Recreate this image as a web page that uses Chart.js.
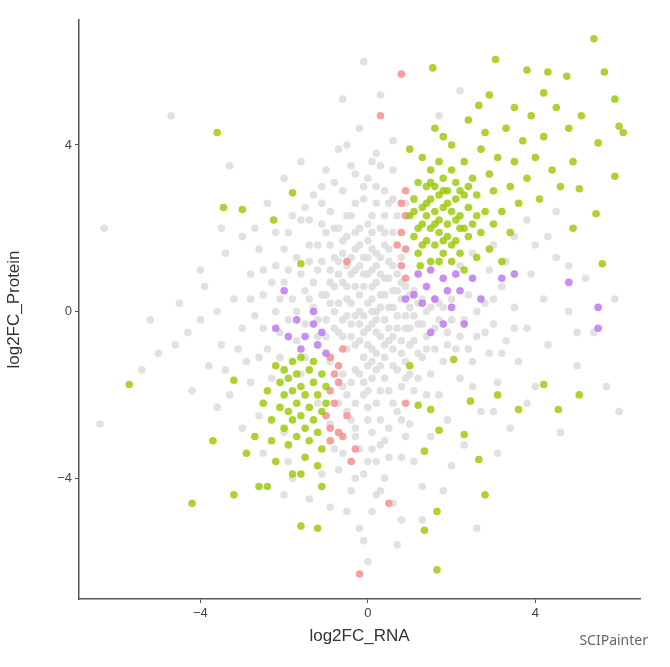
<!DOCTYPE html>
<html><head><meta charset="utf-8">
<script src="https://cdn.jsdelivr.net/npm/chart.js@4"></script>
<style>body{margin:0;background:#fff}#w{position:relative;width:670px;height:667px}
#wm{position:absolute;right:22px;bottom:18px;font:14px "Noto Sans",sans-serif;color:#666}</style>
</head><body><div id="w"><canvas id="c" width="670" height="667"></canvas><div id="wm">SCIPainter</div></div>
<script>
const xTicks=[-4,0,4];
const yTicks=[-4,0,4];
const grey=[[-6.3,2.0],[-6.4,-2.7],[-4.7,4.7],[-5.2,-0.2],[-5.0,-1.0],[-4.5,0.2],[-4.3,-0.5],[-4.0,1.0],[-3.8,-1.3],[-3.9,0.6],[-3.5,-0.8],[-3.4,1.4],[-3.3,-2.0],[-3.2,0.3],[-3.0,-0.4],[-3.0,1.8],[-2.9,-1.2],[-2.8,0.9],[-2.7,-0.1],[-2.6,-2.5],[-2.6,1.5],[-2.5,0.4],[-2.4,-0.9],[-2.4,2.6],[-2.3,-1.6],[-2.2,0.0],[-2.2,1.1],[-2.1,-0.5],[-2.0,0.7],[-2.0,-2.9],[-1.9,1.9],[-1.9,-0.2],[-1.8,0.3],[-1.8,-4.0],[-1.7,1.3],[-1.7,-0.7],[-1.6,0.9],[-1.6,2.2],[-1.5,-0.3],[-1.5,0.5],[-1.4,1.6],[-1.4,-4.5],[-1.3,0.1],[-1.3,2.8],[-1.2,-0.6],[-1.2,1.0],[-1.1,0.4],[-1.1,-3.9],[-1.0,1.9],[-1.0,-0.2],[-1.0,3.4],[-0.9,0.7],[-0.9,-1.2],[-0.9,2.4],[-0.8,0.0],[-0.8,1.3],[-0.8,-3.3],[-0.7,-0.5],[-0.7,3.9],[-0.7,0.9],[-0.6,1.7],[-0.6,-1.8],[-0.6,2.9],[-0.5,0.3],[-0.5,-0.9],[-0.5,1.1],[-0.5,-2.4],[-0.4,2.3],[-0.4,-0.3],[-0.4,3.5],[-0.4,-4.3],[-0.3,0.6],[-0.3,1.5],[-0.3,-1.4],[-0.3,-3.0],[-0.2,0.0],[-0.2,2.0],[-0.2,-0.7],[-0.2,4.4],[-0.2,-5.2],[-0.1,0.9],[-0.1,-2.0],[-0.1,1.3],[-0.1,-1.1],[-0.1,2.7],[0.0,0.2],[0.0,-0.4],[0.0,1.7],[0.0,-2.6],[0.0,3.2],[0.0,-3.6],[0.0,-6.0],[0.1,0.6],[0.1,-1.6],[0.1,1.0],[0.1,-0.9],[0.1,2.3],[0.1,-4.8],[0.2,0.0],[0.2,1.4],[0.2,-0.5],[0.2,-2.2],[0.2,3.8],[0.3,0.4],[0.3,-1.3],[0.3,2.0],[0.3,-3.2],[0.3,5.2],[0.4,0.8],[0.4,-0.2],[0.4,1.6],[0.4,-0.8],[0.4,-4.0],[0.5,0.1],[0.5,1.2],[0.5,-1.9],[0.5,2.6],[0.5,-2.8],[0.6,0.5],[0.6,-0.6],[0.6,1.9],[0.6,-1.3],[0.6,3.4],[0.7,-0.1],[0.7,0.9],[0.7,-2.4],[0.7,2.3],[0.7,-5.6],[0.8,0.3],[0.8,-1.0],[0.8,1.3],[0.8,-3.5],[0.9,-0.4],[0.9,0.6],[0.9,-1.6],[1.0,0.1],[1.0,-0.8],[1.1,0.5],[1.1,-1.9],[1.2,-0.3],[1.2,0.2],[1.3,-1.1],[1.3,-4.2],[1.4,0.0],[1.4,-0.6],[1.5,-1.5],[1.6,0.3],[1.6,-0.9],[1.7,-0.2],[1.7,-2.0],[1.8,0.1],[1.8,-1.2],[1.9,-0.5],[2.0,-3.7],[2.0,0.3],[2.1,-0.9],[2.2,-1.6],[2.3,-0.2],[2.4,0.4],[2.5,-1.2],[2.6,-0.6],[2.7,-2.4],[2.8,0.2],[2.9,-1.0],[3.0,-0.3],[3.1,-1.7],[3.2,0.6],[3.3,-0.7],[3.4,-2.8],[3.5,0.1],[3.6,-1.2],[3.8,-0.4],[3.9,0.9],[4.0,-1.8],[4.2,0.3],[4.3,-0.8],[4.5,1.3],[4.6,-2.9],[4.8,0.0],[5.0,-1.3],[5.2,0.8],[5.4,-0.5],[5.7,-1.8],[6.0,-2.4],[5.9,0.3],[-0.1,6.0],[-0.6,5.1],[1.7,4.7],[2.2,5.3],[-1.6,3.6],[-2.0,3.2],[-3.3,3.5],[1.3,-5.0],[2.6,-5.2],[-0.5,-4.8],[0.6,-4.6],[-2.5,-3.4],[-3.0,-2.8],[-3.6,-2.3],[-4.2,-1.9],[3.8,2.2],[4.5,2.4],[3.3,1.2],[2.9,1.0],[4.0,1.6],[-0.9,-2.7],[-0.4,-1.7],[0.3,-2.6],[-0.2,-3.3],[0.5,-3.5],[-0.7,-3.8],[0.2,-4.4],[-0.3,2.6],[0.4,2.9],[-0.8,3.1],[0.1,3.6],[-0.5,4.0],[0.6,4.1],[-1.1,2.6],[-1.5,2.5],[-2.0,1.5],[-2.5,1.0],[-3.6,0.0],[-4.6,-0.8],[-5.4,-1.4],[-1.2,-2.2],[-1.6,-1.5],[-2.1,-1.1],[1.0,-2.7],[1.5,-3.0],[1.9,-2.6],[2.3,-3.2],[0.9,2.6],[0.6,2.7],[-0.2,1.1],[0.2,-1.0],[-0.1,-0.1],[0.3,0.9],[-0.4,0.9],[0.5,-0.4],[-0.6,-0.2],[0.1,1.9],[-0.3,-2.2],[0.2,2.6],[0.0,-1.3],[0.1,0.3],[-0.2,-1.5],[0.4,-1.6],
[-1.4,0.3],[-1.3,0.7],[-1.2,-0.2],[-1.1,1.2],[-1.0,0.4],[-1.0,-0.6],[-0.9,1.0],[-0.9,0.2],[-0.8,-0.4],[-0.8,0.6],[-0.7,1.2],[-0.7,0.2],[-0.6,-0.6],[-0.6,0.7],[-0.6,1.4],[-0.5,-0.1],[-0.5,0.6],[-0.5,1.8],[-0.4,-0.6],[-0.4,0.2],[-0.4,1.3],[-0.3,-0.1],[-0.3,1.0],[-0.3,1.9],[-0.3,-0.8],[-0.2,0.4],[-0.2,-0.3],[-0.2,1.6],[-0.1,0.6],[-0.1,-0.5],[-0.1,-1.7],[0.0,0.9],[0.0,-0.8],[0.0,1.3],[0.0,2.1],[0.0,-1.9],[0.1,0.0],[0.1,-0.3],[0.1,1.5],[0.1,-1.2],[0.2,0.7],[0.2,-0.2],[0.2,1.1],[0.2,-1.4],[0.3,0.1],[0.3,-0.6],[0.3,1.3],[0.3,-1.9],[0.4,0.4],[0.4,-1.1],[0.4,1.9],[0.5,-0.7],[0.5,0.8],[0.5,1.5],[0.6,0.1],[0.6,-0.9],[0.6,1.1],[0.7,-0.4],[0.7,0.5],[0.7,-1.4],[0.8,-0.7],[0.8,0.7],[0.9,-0.1],[0.9,-1.2],[1.0,0.4],[1.0,-0.4],[1.1,-0.1],[1.1,-0.7],[1.2,-1.0],[1.3,-0.3],[1.3,0.3],[1.4,-0.9],[1.5,0.1],[1.6,-0.4],[1.7,0.2],[1.9,-0.8],[2.0,-0.2],[2.2,-0.6],[2.4,-0.9],[2.6,0.0],[2.8,-0.5],[3.0,0.3],[3.2,-1.0],[3.5,-0.4],[-1.5,-1.1],[-1.7,0.0],[-1.9,1.0],[-2.1,0.3],[-2.3,0.7],[-2.5,-0.4],[-2.8,0.3],[-3.1,-0.9],[-1.4,1.2],[-1.2,1.6],[-0.9,1.6],[-0.7,2.0],[-0.5,2.3],[-0.8,2.0],[-1.1,2.1],[0.4,2.3],[0.2,3.0],[-0.1,3.0],[-0.3,3.3],[0.3,3.5],[-0.4,-2.6],[0.1,-2.9],[-0.1,-3.9],[0.4,-3.1],[0.2,-3.6],[-0.3,-4.0],[0.6,-2.2],[0.8,-1.8],[0.8,-2.6],[1.0,-1.5],[1.2,-1.6],[1.4,-2.0],[-0.6,-1.5],[-0.5,-2.0],[-0.7,-2.2],[-0.3,-2.8],[0.0,-2.3],[0.1,-3.3],[0.3,-4.3],[-0.6,-3.4],[0.9,-3.0],[1.1,-3.6],[-1.1,3.0],[-1.4,2.2],[-1.8,2.3],[-2.2,1.9],[-2.7,2.0],[-3.5,2.0],[2.2,1.1],[2.5,1.4],[3.0,1.6],[3.5,1.8],[4.3,1.8],[4.8,1.1],[5.0,-0.5],[2.5,-1.8],[3.0,-2.4],[3.8,-2.2],[-2.8,-1.7],[-3.4,-1.4],[-4.0,-0.2],[-2.6,-1.1],[-1.9,-3.6],[-2.0,-4.4],[-0.9,-4.7],[-0.1,-5.5],[0.8,-5.0],[1.8,-4.3],[3.1,-3.4]];
const green=[[-3.6,4.3],[-3.45,2.5],[-3.0,2.45],[-2.25,2.2],[-1.8,2.85],[-1.6,1.15],[-5.7,-1.75],[-4.2,-4.6],[-3.7,-3.1],[-3.2,-4.4],[-2.9,-3.4],[-2.6,-4.2],[-2.4,-4.2],[-1.6,-5.15],[-1.2,-5.2],[-3.2,-1.65],[-2.3,-3.1],
[1.55,5.85],[3.05,6.05],[3.8,5.8],[4.3,5.75],[4.75,5.65],[5.4,6.55],[5.65,5.75],[5.9,5.1],[6.0,4.45],[6.1,4.3],[5.9,3.25],[5.6,1.15],[4.9,2.0],[5.45,2.35],[5.05,2.95],[5.5,4.05],[4.2,5.25],[2.65,4.95],[1.0,3.9],
[1.0,-1.3],[1.2,-2.25],[1.5,-2.35],[1.7,-2.85],[1.35,-3.35],[2.3,-2.95],[2.65,-3.55],[2.8,-4.4],[1.65,-4.8],[1.35,-5.25],[1.65,-6.2],[3.6,-2.35],[4.2,-1.75],[4.55,-2.35],[5.05,-2.0],[2.05,-1.15],[3.1,-2.0],[2.45,-2.15],
[1.0,2.3],[1.1,1.8],[1.1,2.7],[1.2,3.1],[1.2,1.4],[1.3,2.1],[1.3,2.5],[1.4,1.7],[1.4,3.0],[1.4,2.3],[1.5,1.2],[1.5,2.0],[1.5,2.7],[1.5,3.4],[1.6,1.6],[1.6,2.4],[1.6,3.0],[1.7,1.9],[1.7,2.2],[1.7,2.8],[1.7,3.6],[1.8,1.4],[1.8,2.5],[1.8,3.2],[1.9,1.8],[1.9,2.1],[1.9,2.9],[2.0,1.2],[2.0,2.4],[2.0,3.4],[2.0,4.0],[2.1,1.7],[2.1,2.7],[2.1,3.1],[2.2,2.0],[2.2,2.3],[2.2,1.4],[2.3,2.8],[2.3,3.6],[2.3,1.0],[2.4,1.8],[2.4,2.5],[2.5,3.2],[2.5,2.1],[2.6,1.3],[2.6,2.8],[2.7,3.9],[2.7,1.9],[2.8,2.4],[2.8,4.3],[2.9,1.5],[2.9,3.3],[3.0,2.1],[3.0,2.9],[3.1,3.7],[3.2,2.4],[3.2,1.2],[3.3,4.4],[3.4,3.0],[3.4,1.9],[3.5,3.6],[3.6,2.6],[3.7,4.1],[3.8,3.2],[3.9,4.7],[4.0,3.7],[4.1,2.7],[4.2,4.2],[4.4,3.4],[4.5,4.9],[4.6,3.0],[4.8,4.4],[4.9,3.6],[5.1,4.7],[2.4,4.6],[1.8,4.2],[1.3,3.7],[1.6,4.4],[2.9,5.2],[3.5,4.9],
[1.2,2.0],[1.3,1.6],[1.4,2.6],[1.6,2.1],[1.8,1.7],[1.9,2.6],[2.1,2.2],[2.3,2.0],[2.4,3.0],[2.6,2.3],[1.1,2.4],[1.5,3.1],[1.8,2.9],[2.0,1.6],[2.2,2.9],[1.25,1.1],[1.7,1.2],
[-2.2,-1.3],[-2.1,-1.7],[-2.1,-2.3],[-2.0,-1.4],[-2.0,-2.0],[-2.0,-2.8],[-1.9,-1.6],[-1.9,-2.4],[-1.9,-3.2],[-1.8,-1.2],[-1.8,-1.9],[-1.8,-2.6],[-1.7,-1.5],[-1.7,-2.2],[-1.7,-3.0],[-1.6,-1.8],[-1.6,-2.5],[-1.6,-1.1],[-1.5,-2.0],[-1.5,-2.8],[-1.5,-3.5],[-1.4,-1.4],[-1.4,-2.3],[-1.4,-3.1],[-1.3,-1.7],[-1.3,-2.6],[-1.3,-1.2],[-1.2,-2.0],[-1.2,-2.9],[-1.2,-3.7],[-1.1,-1.5],[-1.1,-2.4],[-1.1,-3.3],[-1.0,-1.8],[-1.0,-2.2],[-2.3,-2.6],[-2.4,-1.9],[-2.5,-2.2],[-2.2,-3.6],[-1.8,-3.9],[-1.6,-3.9],[-1.1,-4.2],[-2.7,-3.0]];
const pink=[[0.3,4.7],[0.8,5.7],[0.9,2.9],[0.9,2.3],[0.8,1.9],[0.9,1.5],[0.8,1.1],[0.9,0.8],[0.7,1.6],[0.8,2.6],[-0.5,1.2],[-0.9,-1.1],[-0.8,-1.5],[-0.9,-1.9],[-0.7,-1.3],[-1.0,-2.5],[-0.9,-2.8],[-0.8,-2.2],[-0.7,-2.9],[-0.9,-3.1],[-0.6,-3.0],[-0.3,-3.3],[-0.5,-2.5],[-0.7,-1.7],[0.5,-4.6],[0.9,-2.2],[-0.2,-6.3],[-0.4,-3.6],[-0.6,-0.9]];
const purple=[[1.2,0.9],[1.4,0.6],[1.5,1.0],[1.6,0.3],[1.8,0.8],[1.9,0.5],[2.0,0.1],[2.1,0.9],[2.2,0.5],[2.3,-0.3],[1.3,0.2],[1.1,0.4],[2.5,0.8],[2.7,0.3],[3.2,0.8],[3.5,0.9],[1.8,-0.3],[4.8,0.7],[5.5,-0.4],[5.5,0.1],[1.5,-0.5],[0.9,0.3],[-2.0,0.5],[-1.9,-0.6],[-1.7,-0.2],[-1.5,-0.6],[-1.3,-0.3],[-1.2,-0.8],[-1.1,-0.5],[-1.0,-1.0],[-1.6,-0.9],[-1.3,0.0],[-2.2,-0.4]];
function pts(a){return a.map(p=>({x:p[0],y:p[1]}));}
const ds=(d,c,o)=>({data:pts(d),backgroundColor:c,borderWidth:0,pointRadius:3.8,order:o});
const ax={color:'#555',drawOnChartArea:false,drawTicks:true,tickLength:4,tickColor:'#555'};
new Chart(document.getElementById('c'),{type:'scatter',
data:{datasets:[ds(grey,'rgba(222,222,222,0.9)',4),ds(pink,'rgba(245,150,150,0.9)',3),ds(purple,'rgba(190,120,240,0.85)',2),ds(green,'rgba(150,200,0,0.8)',1)]},
options:{responsive:false,animation:false,plugins:{legend:{display:false},tooltip:{enabled:false}},
layout:{padding:{top:20,right:30,left:0,bottom:16}},
scales:{
x:{min:-6.9,max:6.5,border:{color:'#555',width:1.5},grid:ax,
 afterBuildTicks:s=>{s.ticks=xTicks.map(v=>({value:v}));},
 ticks:{color:'#444',font:{size:13},padding:3,callback:v=>String(v).replace('-','\u2212')},
 title:{display:true,text:'log2FC_RNA',color:'#333',font:{size:17},padding:{top:2}}},
y:{min:-6.9,max:7.0,border:{color:'#555',width:1.5},grid:ax,
 afterBuildTicks:s=>{s.ticks=yTicks.map(v=>({value:v}));},
 afterFit:s=>{s.width=79;},
 ticks:{color:'#444',font:{size:13},callback:v=>String(v).replace('-','\u2212')},
 title:{display:true,text:'log2FC_Protein',color:'#333',font:{size:17}}}
}}});
</script></body></html>
